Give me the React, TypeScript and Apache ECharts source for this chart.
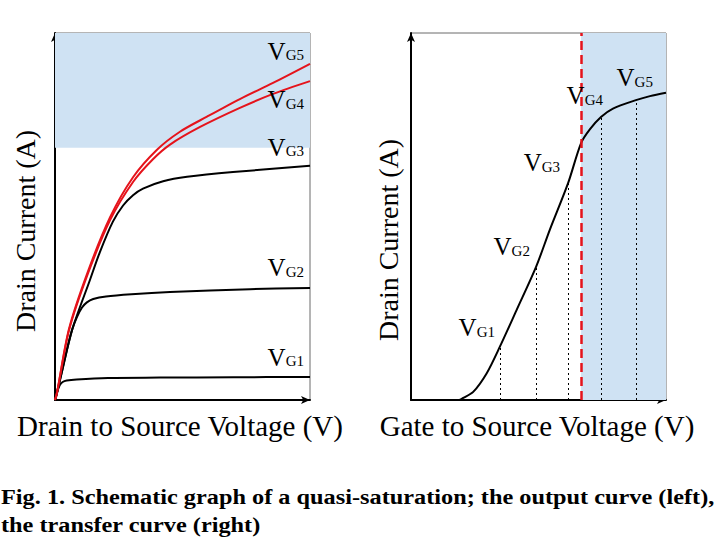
import React, { useEffect, useRef } from "react";
import * as echarts from "echarts";

// Output characteristics (left panel): normalised drain-source voltage vs drain current
const outputVG1: [number, number][] = [
  [0, 0], [0.3, 0.5], [1.0, 2.5], [1.9, 4.1], [3.0, 4.9], [4.6, 5.3],
  [8.5, 5.6], [20.8, 6.0], [41.2, 6.1], [70, 6.2], [100, 6.3],
];
const outputVG2: [number, number][] = [
  [0, 0], [0.8, 1.9], [3.9, 11.4], [6.7, 19.1], [8.6, 22.6], [10.6, 25.2],
  [12.5, 26.6], [15.0, 27.5], [20.0, 28.2], [30.0, 28.8], [45.1, 29.4],
  [76.5, 30.2], [100, 30.5],
];
const outputVG3: [number, number][] = [
  [0, 0], [0.8, 2.2], [2.7, 7.6], [6.7, 19.1], [13.7, 32.7], [17.6, 40.3],
  [22.7, 48.6], [26.7, 53.0], [30.6, 55.8], [34.5, 57.6], [42.4, 59.6],
  [51.8, 60.8], [69.8, 62.1], [100, 63.8],
];
const outputVG4: [number, number][] = [
  [0, 0], [0.8, 2.0], [5.5, 19.0], [12.9, 34.4], [21.6, 49.0], [30.6, 59.4],
  [38.4, 65.6], [45.1, 69.6], [56.9, 74.4], [72.5, 79.6], [85.5, 83.4], [100, 86.9],
];
const outputVG5: [number, number][] = [
  [0, 0], [0.8, 2.1], [5.5, 19.4], [12.9, 35.0], [21.6, 49.8], [30.6, 60.7],
  [40.0, 68.2], [49.0, 73.1], [59.6, 77.2], [72.5, 82.0], [85.5, 86.4], [100, 91.6],
];
// Current level above which the output curves are in quasi-saturation
const outputQuasiLevel = 68.7;

// Transfer characteristic (right panel): normalised gate-source voltage vs drain current
const transferCurve: [number, number][] = [
  [0, 0], [18.8, 0], [20.5, 0.6], [24.4, 2.2], [29.7, 7.3], [34.9, 14.6],
  [41.4, 24.5], [49.0, 36.2], [54.5, 46.5], [61.6, 59.1], [66.7, 70.0],
  [70.2, 73.8], [74.5, 77.1], [79.2, 79.4], [88.2, 81.7], [93.7, 82.8], [100, 83.7],
];
// Points of the transfer curve that correspond to VG1..VG5
const transferMarkIndex = [5, 7, 9, 12, 14];
// Gate voltage where quasi-saturation begins
const transferQuasiVgs = 66.7;

const gateLevels = ["G1", "G2", "G3", "G4", "G5"];

const FONT = "'Liberation Serif', 'Times New Roman', serif";
const BLUE = "#cfe2f3";
const RED = "#e5131b";

const axisBase = {
  type: "value" as const,
  min: 0,
  max: 100,
  axisLine: {
    show: true,
    onZero: false,
    symbol: ["none", "arrow"],
    symbolSize: [6, 9],
    lineStyle: { color: "#000", width: 2 },
  },
  axisTick: { show: false },
  axisLabel: { show: false },
  splitLine: { show: false },
};

function vgLabel(sub: string, x: number, y: number, align: string) {
  return {
    type: "text",
    x,
    y,
    silent: true,
    z: 50,
    style: {
      text: `{v|V}{s|${sub}}`,
      align,
      verticalAlign: "bottom",
      rich: {
        v: { fontSize: 25, fontFamily: FONT, fill: "#000", verticalAlign: "bottom" },
        s: { fontSize: 15, fontFamily: FONT, fill: "#000", verticalAlign: "bottom", padding: [0, 0, 1, 0] },
      },
    },
  };
}

function plainText(text: string, x: number, y: number, size: number, opts: any = {}) {
  return {
    type: "text",
    x,
    y,
    rotation: opts.rotation || 0,
    scaleX: opts.scaleX || 1,
    silent: true,
    style: {
      text,
      fontSize: size,
      fontFamily: FONT,
      fontWeight: opts.bold ? "bold" : "normal",
      fill: "#000",
      align: opts.align || "center",
      verticalAlign: "middle",
    },
  };
}

export default function App() {
  const ref = useRef<HTMLDivElement>(null);

  useEffect(() => {
    if (!ref.current) return;
    const chart = echarts.init(ref.current, null, { renderer: "svg" });

    const outputSeries = [outputVG1, outputVG2, outputVG3, outputVG4, outputVG5].map(
      (data, i) => ({
        type: "line",
        xAxisIndex: 0,
        yAxisIndex: 0,
        data,
        showSymbol: false,
        smooth: 0.3,
        silent: true,
        z: i >= 3 ? 4 : 3,
        lineStyle: { color: i >= 3 ? RED : "#000", width: 2 },
        ...(i === 0
          ? {
              markArea: {
                silent: true,
                itemStyle: { color: BLUE },
                data: [[{ coord: [0, outputQuasiLevel] }, { coord: [100, 100] }]],
              },
            }
          : {}),
      })
    );

    const markLines: any[] = transferMarkIndex.map((idx) => {
      const [x, y] = transferCurve[idx];
      return [
        { coord: [x, 0], lineStyle: { color: "#000", type: [2, 3], width: 1 } },
        { coord: [x, y] },
      ];
    });
    markLines.push({
      xAxis: transferQuasiVgs,
      lineStyle: { color: RED, type: [9, 5], width: 2.5 },
    });

    chart.setOption({
      animation: false,
      grid: [
        { left: 55, top: 33, width: 255, height: 367, show: true, borderColor: "#6a6a6a", borderWidth: 1 },
        { left: 411, top: 33, width: 255, height: 367, show: true, borderColor: "#6a6a6a", borderWidth: 1 },
      ],
      xAxis: [
        { ...axisBase, gridIndex: 0 },
        { ...axisBase, gridIndex: 1 },
      ],
      yAxis: [
        { ...axisBase, gridIndex: 0 },
        { ...axisBase, gridIndex: 1 },
      ],
      series: [
        ...outputSeries,
        {
          type: "line",
          xAxisIndex: 1,
          yAxisIndex: 1,
          data: transferCurve,
          showSymbol: false,
          smooth: 0.3,
          silent: true,
          z: 4,
          lineStyle: { color: "#000", width: 2 },
          markArea: {
            silent: true,
            itemStyle: { color: BLUE },
            data: [[{ xAxis: transferQuasiVgs }, { xAxis: 100 }]],
          },
          markLine: {
            silent: true,
            symbol: "none",
            label: { show: false },
            data: markLines,
          },
        },
      ],
    });

    // Curve labels, anchored to the curves through the axes' scales
    const outputEnds = [outputVG1, outputVG2, outputVG3, outputVG4, outputVG5].map(
      (d) => chart.convertToPixel({ xAxisIndex: 0, yAxisIndex: 0 }, d[d.length - 1]) as number[]
    );
    const outputOffsets = [
      [-6, -7], [-6, -8], [-6, -6], [-6, 31], [-6, 0],
    ];
    const transferPts = transferMarkIndex.map(
      (idx) => chart.convertToPixel({ xAxisIndex: 1, yAxisIndex: 1 }, transferCurve[idx]) as number[]
    );
    const transferOffsets = [
      [-5, -6], [-6, -8], [-8, -8], [2, -9], [17, -10],
    ];

    const labels = [
      ...outputEnds.map((p, i) =>
        vgLabel(gateLevels[i], p[0] + outputOffsets[i][0], p[1] + outputOffsets[i][1], "right")
      ),
      ...transferPts.map((p, i) =>
        vgLabel(gateLevels[i], p[0] + transferOffsets[i][0], p[1] + transferOffsets[i][1], "right")
      ),
    ];

    chart.setOption({
      graphic: [
        ...labels,
        plainText("Drain Current (A)", 25, 231, 28, { rotation: Math.PI / 2 }),
        plainText("Drain Current (A)", 388, 240, 28, { rotation: Math.PI / 2 }),
        plainText("Drain to Source Voltage (V)", 180, 426, 29),
        plainText("Gate to Source Voltage (V)", 537, 426, 29),
        plainText("Fig. 1. Schematic graph of a quasi-saturation; the output curve (left),", 1, 497, 20, { bold: true, align: "left", scaleX: 1.215 }),
        plainText("the transfer curve (right)", 1, 525, 20, { bold: true, align: "left", scaleX: 1.215 }),
      ],
    });

    return () => chart.dispose();
  }, []);

  return (
    <div
      ref={ref}
      style={{ position: "fixed", left: 0, top: 0, width: 720, height: 550, background: "#fff" }}
    />
  );
}
